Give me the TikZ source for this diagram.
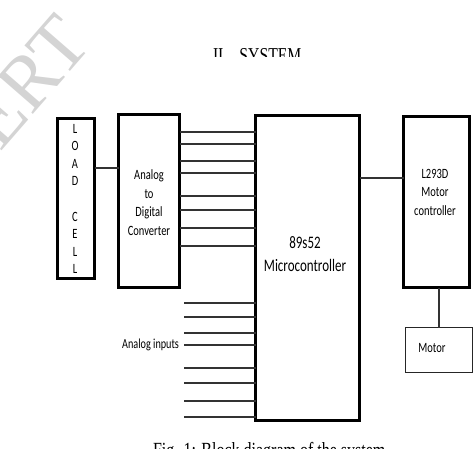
\documentclass[tikz,border=0pt]{standalone}
\usepackage{fontspec}
\setmainfont{Liberation Serif}
\newfontfamily\calib{Carlito}
\newcommand\stext[3]{\scalebox{1}[1.35]{\fontsize{#1}{#2}\selectfont\calib\begin{tabular}{@{}c@{}}#3\end{tabular}}}
\begin{document}
\begin{tikzpicture}[x=1pt,y=-1pt,
  box/.style={draw=black, line width=3pt, inner sep=0pt, outer sep=0pt},
  thinbox/.style={draw=black!85, line width=1.3pt, inner sep=0pt, outer sep=0pt},
  wire/.style={draw=black!80, line width=1.1pt},
  lbl/.style={inner sep=0pt, outer sep=0pt}]
\useasboundingbox (0,0) rectangle (474,448);
\begin{scope}
\clip (0,0) rectangle (474,448);
% watermark
\node[lbl, text=black!17, rotate=49, font=\fontsize{78}{78}\selectfont] (wm) at (10,103) {IJERT};
% boxes
\node[box, minimum width=37pt, minimum height=160pt] (lc) at (76,198.5) {};
\node[box, minimum width=61pt, minimum height=173pt] (adc) at (149,201) {};
\node[box, minimum width=104pt, minimum height=305pt] (mcu) at (307.5,268) {};
\node[box, minimum width=66pt, minimum height=171pt] (mc) at (436.5,202) {};
\node[thinbox, minimum width=66.5pt, minimum height=44.5pt] (motor) at (439,350) {};
% texts
\node[lbl] (lct) at (75,200) {\stext{10.5}{13}{L\\O\\A\\D\\~\\C\\E\\L\\L}};
\node[lbl] (adct) at (149,204) {\stext{10.5}{13.7}{Analog\\to\\Digital\\Converter}};
\node[lbl] (mcut) at (305,255) {\stext{13}{17}{89s52\\Microcontroller}};
\node[lbl] (mct) at (435,193) {\stext{10.5}{13.7}{L293D\\Motor\\controller}};
\node[lbl] (motort) at (432,349) {\stext{10.5}{13}{Motor}};
\node[lbl, anchor=east] (ait) at (179,345) {\stext{10.2}{13}{Analog inputs}};
% connectors
\draw[wire] (lc.east |- 0,168) -- (adc.west |- 0,168);
\foreach \y in {132,144,161,173,196,210,228,246}
  \draw[wire] (adc.east |- 0,\y) -- (mcu.west |- 0,\y);
\foreach \y [count=\i] in {303,317,333,345,368,383,401,417}{
  \coordinate (ai\i) at (184,\y);
  \draw[wire] (ai\i) -- (mcu.west |- ai\i);
}
\draw[wire] (mcu.east |- 0,178) -- (mc.west |- 0,178);
\draw[wire] (motor.north |- mc.south) -- (motor.north);
% caption
\node[lbl, anchor=base west, font=\fontsize{16}{16}\selectfont] (cap) at (153,457) {\scalebox{1}[1.35]{Fig. 1: Block diagram of the system}};
\end{scope}
\begin{scope}
\clip (0,0) rectangle (474,56);
\node[lbl, anchor=base west, font=\fontsize{15.7}{16}\selectfont] (title) at (213,62) {\scalebox{1}[1.35]{II.\hspace{0.77em}SYSTEM}};
\end{scope}
\end{tikzpicture}
\end{document}
